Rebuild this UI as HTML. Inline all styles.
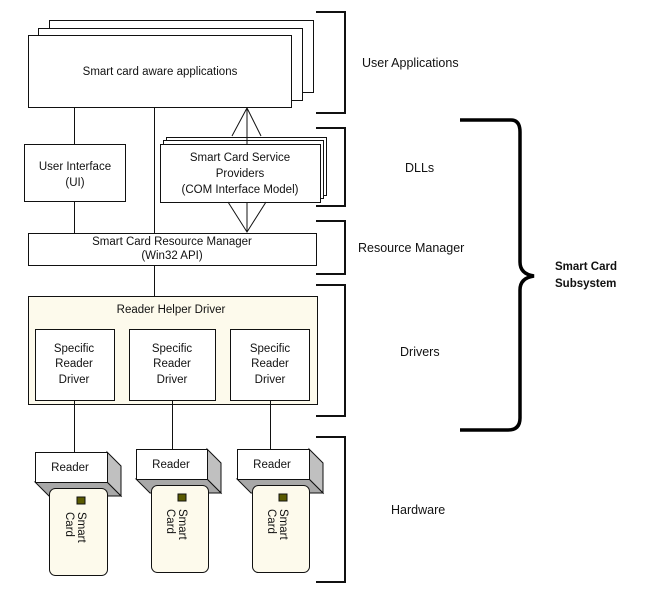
<!DOCTYPE html>
<html><head><style>body{margin:0;background:#fff}svg{display:block}text{font-family:"Liberation Sans",sans-serif;font-size:11.5px;fill:#111}</style></head><body>
<svg width="664" height="597" viewBox="0 0 664 597" xmlns="http://www.w3.org/2000/svg">
<g stroke="#111" stroke-width="1" fill="#fff">
<rect x="49.5" y="20.5" width="264" height="72"/>
<rect x="38.5" y="28.5" width="264" height="72"/>
<rect x="28.5" y="35.5" width="263" height="72"/>
<line x1="74.5" y1="107" x2="74.5" y2="144"/>
<line x1="74.5" y1="201" x2="74.5" y2="233"/>
<line x1="154.5" y1="107" x2="154.5" y2="233"/>
<line x1="154.5" y1="265" x2="154.5" y2="296"/>
<rect x="24.5" y="144.5" width="101" height="57"/>
<rect x="166.5" y="137.5" width="160" height="58"/>
<rect x="163.5" y="140.5" width="160" height="58"/>
<rect x="160.5" y="144.5" width="160" height="58"/>
<polyline points="232,136 247,108 261,136" fill="none"/>
<line x1="247" y1="108" x2="247" y2="144"/>
<polyline points="228,202 247,232 266,202" fill="none"/>
<line x1="247" y1="202" x2="247" y2="232"/>
<rect x="28.5" y="233.5" width="288" height="32"/>
<rect x="28.5" y="296.5" width="289" height="108" fill="#fdfaec"/>
<rect x="35.5" y="329.5" width="79" height="71"/>
<rect x="129.5" y="329.5" width="86" height="71"/>
<rect x="230.5" y="329.5" width="79" height="71"/>
<line x1="74.5" y1="401" x2="74.5" y2="452"/>
<line x1="172.5" y1="401" x2="172.5" y2="449"/>
<line x1="270.5" y1="401" x2="270.5" y2="449"/>
</g>
<g stroke="#111" stroke-width="1">
<g>
<polygon points="107,452 121,466 121,496 107,482" fill="#c0c0c0"/>
<polygon points="35,482 107,482 121,496 49,496" fill="#a8a8a8"/>
<rect x="35.5" y="452.5" width="72" height="30" fill="#fff"/>
<rect x="49.5" y="488.5" width="58" height="87" rx="6" fill="#fdfaec"/>
<rect x="77" y="497" width="8" height="7" fill="#5a5a00"/>
</g>
<g>
<polygon points="207,449 221,463 221,493 207,479" fill="#c0c0c0"/>
<polygon points="136,479 207,479 221,493 150,493" fill="#a8a8a8"/>
<rect x="136.5" y="449.5" width="71" height="30" fill="#fff"/>
<rect x="151.5" y="485.5" width="57" height="87" rx="6" fill="#fdfaec"/>
<rect x="178" y="494" width="8" height="7" fill="#5a5a00"/>
</g>
<g>
<polygon points="309,449 323,463 323,493 309,479" fill="#c0c0c0"/>
<polygon points="237,479 309,479 323,493 251,493" fill="#a8a8a8"/>
<rect x="237.5" y="449.5" width="72" height="30" fill="#fff"/>
<rect x="252.5" y="485.5" width="57" height="87" rx="6" fill="#fdfaec"/>
<rect x="279" y="494" width="8" height="7" fill="#5a5a00"/>
</g>
</g>
<g stroke="#111" stroke-width="2" fill="none">
<polyline points="316,12 345,12 345,113 316,113"/>
<polyline points="316,128 345,128 345,206 316,206"/>
<polyline points="316,221 345,221 345,274 316,274"/>
<polyline points="316,285 345,285 345,416 316,416"/>
<polyline points="316,437 345,437 345,582 316,582"/>
</g>
<path d="M460,120 H511 Q520,120 520,132 V262 Q520,274 534,276 Q520,278 520,290 V418 Q520,430 508,430 H460" stroke="#000" stroke-width="3.5" fill="none"/>
<g text-anchor="middle">
<text x="160" y="75">Smart card aware applications</text>
<text x="75" y="170">User Interface</text><text x="75" y="186">(UI)</text>
<text x="240" y="161">Smart Card Service</text><text x="240" y="177">Providers</text><text x="240" y="193">(COM Interface Model)</text>
<text x="172" y="245">Smart Card Resource Manager</text><text x="172" y="259">(Win32 API)</text>
<text x="171" y="313">Reader Helper Driver</text>
<text x="74" y="352">Specific</text><text x="74" y="367">Reader</text><text x="74" y="383">Driver</text>
<text x="172" y="352">Specific</text><text x="172" y="367">Reader</text><text x="172" y="383">Driver</text>
<text x="270" y="352">Specific</text><text x="270" y="367">Reader</text><text x="270" y="383">Driver</text>
<text x="70" y="471">Reader</text><text x="171" y="468">Reader</text><text x="272" y="468">Reader</text>
</g>
<g font-size="11.5">
<text transform="translate(78,512) rotate(90)">Smart</text><text transform="translate(66,512) rotate(90)">Card</text>
<text transform="translate(179,509) rotate(90)">Smart</text><text transform="translate(167,509) rotate(90)">Card</text>
<text transform="translate(280,509) rotate(90)">Smart</text><text transform="translate(268,509) rotate(90)">Card</text>
</g>
<text x="362" y="67" style="font-size:12.5px">User Applications</text>
<text x="405" y="172" style="font-size:12.5px">DLLs</text>
<text x="358" y="252" style="font-size:12.5px">Resource Manager</text>
<text x="400" y="356" style="font-size:12.5px">Drivers</text>
<text x="391" y="514" style="font-size:12.5px">Hardware</text>
<text x="555" y="270" style="font-weight:bold;font-size:11.5px">Smart Card</text>
<text x="555" y="287" style="font-weight:bold;font-size:11.5px">Subsystem</text>
</svg>
</body></html>
